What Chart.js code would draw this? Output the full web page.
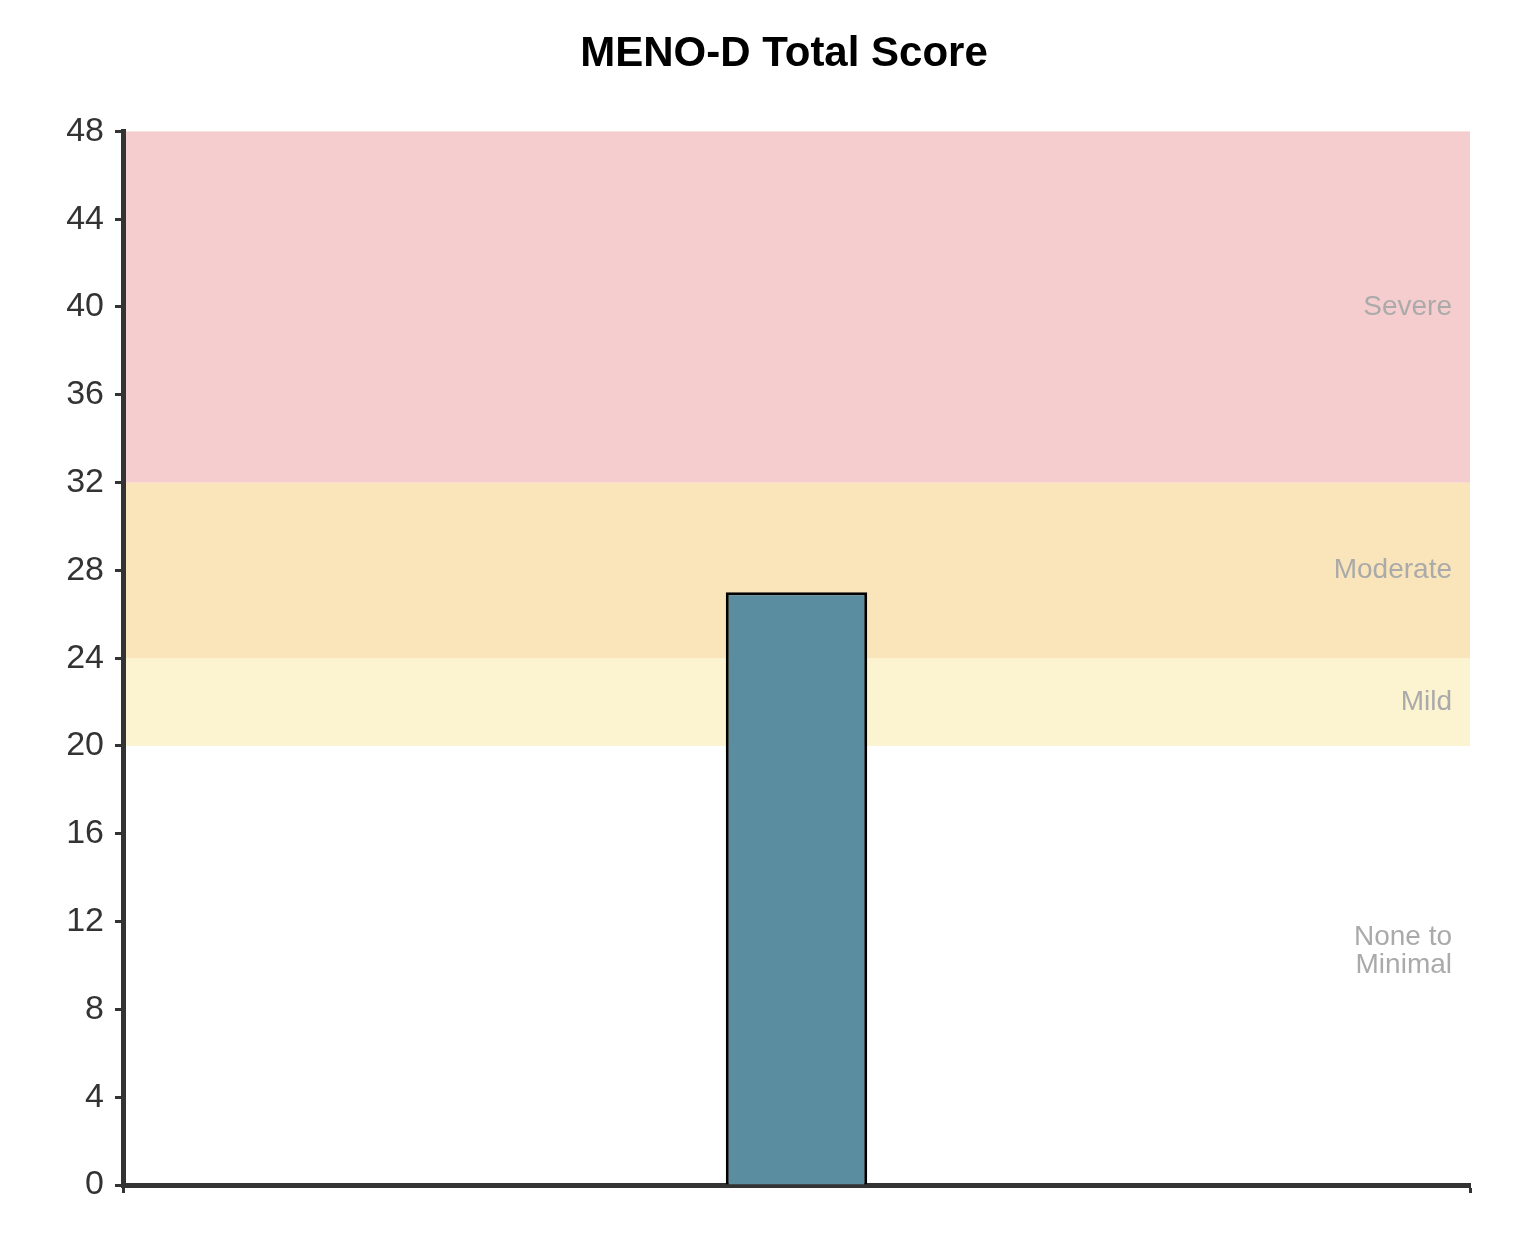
<!DOCTYPE html>
<html>
<head>
<meta charset="utf-8">
<script src="https://cdn.jsdelivr.net/npm/chart.js@4"></script>
<style>
  html, body { margin: 0; padding: 0; background: #fff; }
  #wrap { width: 1536px; height: 1240px; }
</style>
</head>
<body>
<div id="wrap"><canvas id="chartMeno"></canvas></div>
<script>
// data
const categories = [''];
const scores = [27];
const yMin = 0;
const yMax = 48;
const yStep = 4;
const bandNames = [['None to', 'Minimal'], ['Mild'], ['Moderate'], ['Severe']];
const bandFrom = [0, 20, 24, 32];
const bandTo = [20, 24, 32, 48];
const bandColors = ['rgba(255,255,255,0)', '#fcf3d0', '#fae5ba', '#f6cdce'];

// severity bands + labels behind the bar
const bandsPlugin = {
    id: 'bands',
    beforeDraw(chart) {
        const c = chart.ctx;
        const area = chart.chartArea;
        const y = chart.scales.y;
        c.save();
        c.fillStyle = '#fff';
        c.fillRect(0, 0, chart.width, chart.height);
        for (let i = 0; i < bandNames.length; i++) {
            const top = y.getPixelForValue(bandTo[i]);
            const bot = y.getPixelForValue(bandFrom[i]);
            c.fillStyle = bandColors[i];
            c.fillRect(area.left, top, area.right - area.left, bot - top);
            const mid = y.getPixelForValue((bandFrom[i] + bandTo[i]) / 2);
            c.fillStyle = '#aaaaaa';
            c.font = '28px "Liberation Sans", Arial, sans-serif';
            c.textAlign = 'right';
            c.textBaseline = 'middle';
            const lines = bandNames[i];
            lines.forEach((t, k) => {
                c.fillText(t, area.right - 18, mid - (lines.length - 1 - k) * 28);
            });
        }
        c.restore();
    }
};

const ctxMeno = document.getElementById('chartMeno').getContext('2d');
const chartMeno = new Chart(ctxMeno, {
    type: 'bar',
    data: {
        labels: categories,
        datasets: [{
            label: 'MENO-D',
            data: scores,
            backgroundColor: '#5b8da1',
            borderColor: '#000',
            borderWidth: 3,
            barPercentage: 0.105,
            categoryPercentage: 1
        }]
    },
    options: {
        responsive: true,
        maintainAspectRatio: false,
        animation: false,
        layout: {
            padding: { left: 32, right: 0, top: 0, bottom: 0 }
        },
        scales: {
            x: {
                grid: {
                    display: true,
                    offset: true,
                    drawOnChartArea: false,
                    drawTicks: true,
                    tickLength: 8,
                    tickWidth: 3,
                    color: '#333'
                },
                border: { display: true, color: '#333', width: 5 },
                ticks: { display: false },
                afterFit(scale) { scale.height = 55; }
            },
            y: {
                min: yMin,
                max: yMax,
                grid: {
                    drawOnChartArea: false,
                    drawTicks: true,
                    tickLength: 8,
                    tickWidth: 3,
                    color: '#333'
                },
                border: { display: true, color: '#333', width: 5 },
                ticks: {
                    stepSize: yStep,
                    padding: 11,
                    color: '#333',
                    font: { family: '"Liberation Sans", Arial, sans-serif', size: 34 }
                },
                afterFit(scale) { scale.width = 91; }
            },
            // empty right-hand gutter so the title centres like the reference
            gutter: {
                type: 'linear',
                position: 'right',
                grid: { display: false },
                border: { display: false },
                ticks: { display: false },
                afterFit(scale) { scale.width = 66; }
            }
        },
        plugins: {
            legend: { display: false },
            tooltip: { enabled: false },
            title: {
                display: true,
                text: 'MENO-D Total Score',
                color: '#000',
                font: { family: '"Liberation Sans", Arial, sans-serif', size: 42, weight: 'bold' },
                padding: { top: 29, bottom: 52 }
            }
        }
    },
    plugins: [bandsPlugin]
});
</script>
</body>
</html>
